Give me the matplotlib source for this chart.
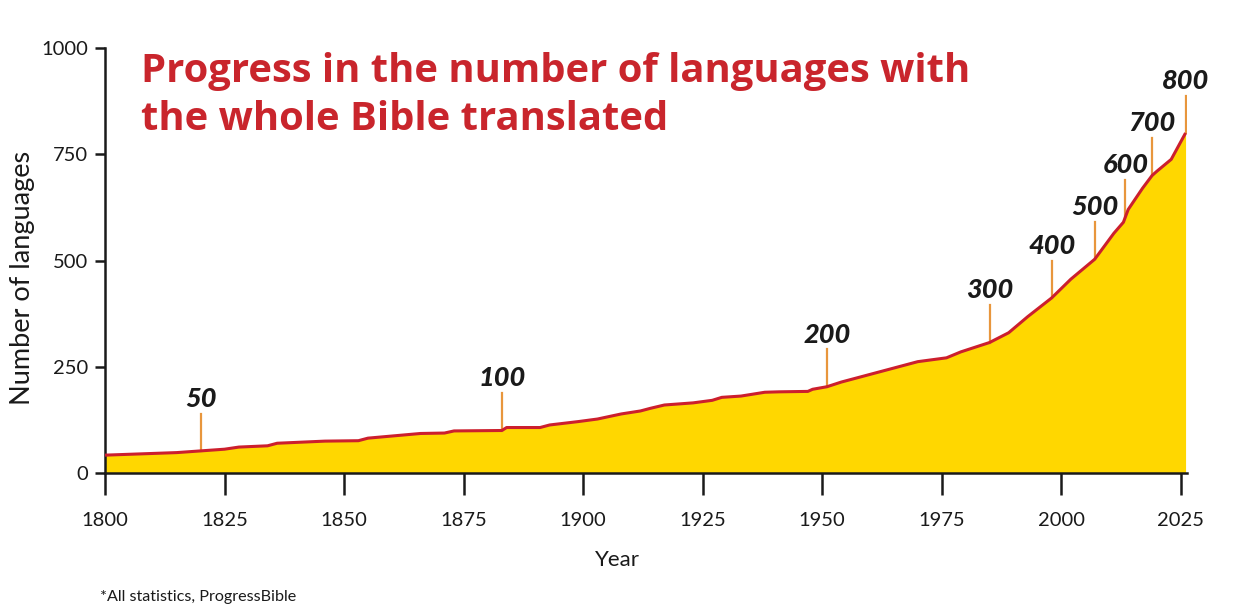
import matplotlib
matplotlib.use("Agg")
import matplotlib.pyplot as plt
import numpy as np

plt.rcParams["font.family"] = ["Lato", "DejaVu Sans"]

# data
years = [1800, 1805, 1810, 1815, 1820, 1825, 1828, 1834, 1836, 1846, 1853, 1855, 1860,
         1866, 1871, 1873, 1883, 1884, 1891, 1893, 1899, 1903, 1908, 1912, 1914, 1917,
         1923, 1927, 1929, 1933, 1938, 1941, 1947, 1948, 1951, 1954, 1957, 1960, 1964,
         1970, 1976, 1979, 1985, 1989, 1993, 1998, 2002, 2007, 2011, 2013, 2014, 2017,
         2019, 2020, 2023, 2026]
languages = [42, 44, 46, 48, 52, 56, 61, 64, 70, 75, 76, 82, 87,
             93, 94, 99, 100, 107, 107, 113, 121, 127, 139, 146, 152, 160,
             165, 171, 178, 181, 190, 191, 192, 197, 203, 214, 223, 232, 244,
             262, 271, 285, 307, 330, 368, 412, 456, 503, 564, 590, 620, 670,
             700, 710, 738, 800]

milestone_years = [1820, 1883, 1951, 1985, 1998, 2007, 2013.4, 2019, 2026]
milestone_labels = ["50", "100", "200", "300", "400", "500", "600", "700", "800"]

title_lines = ["Progress in the number of languages with", "the whole Bible translated"]

FILL = "#FFD700"
LINE = "#CC1F2D"
TITLE_RED = "#C9252C"
STEM = "#E8963C"
INK = "#1A1A1A"

fig = plt.figure(figsize=(12.4, 6.11), dpi=100)
ax = fig.add_axes([105 / 1240, 1 - 473 / 611, (1187 - 105) / 1240, (473 - 48) / 611])

ax.fill_between(years, 0, languages, color=FILL, lw=0, zorder=1)
ax.plot(years, languages, color=LINE, lw=2.2, zorder=3, solid_capstyle="butt")

for yr, lab in zip(milestone_years, milestone_labels):
    base = np.interp(yr, years, languages)
    ax.plot([yr, yr], [base, base + 88], color=STEM, lw=1.6, zorder=2)
    ax.annotate(lab, (yr, base + 88), xytext=(0, 2), textcoords="offset points",
                ha="center", va="bottom", fontsize=19.5, fontweight="black",
                fontstyle="italic", color=INK)

ax.set_xlim(1800, 2026.3)
ax.set_ylim(0, 1000)
ax.set_xticks([1800, 1825, 1850, 1875, 1900, 1925, 1950, 1975, 2000, 2025])
ax.set_yticks([0, 250, 500, 750, 1000])
ax.spines["top"].set_visible(False)
ax.spines["right"].set_visible(False)
for s in ("left", "bottom"):
    ax.spines[s].set_linewidth(1.8)
    ax.spines[s].set_color(INK)
ax.tick_params(axis="x", length=16, width=1.8, pad=12, labelsize=14.5, colors=INK)
ax.tick_params(axis="y", length=7, width=1.8, pad=5, labelsize=14.5, colors=INK)

ax.set_xlabel("Year", fontsize=16, color=INK)
ax.xaxis.set_label_coords((617 - 105) / (1187 - 105), -(550 - 473) / (473 - 48))
ax.set_ylabel("Number of languages", fontsize=19.5, color=INK)
ax.yaxis.set_label_coords((35 - 105) / (1187 - 105), (473 - 278) / (473 - 48))

for i, line in enumerate(title_lines):
    fig.text(141 / 1240, 1 - (82 + 48 * i) / 611, line, ha="left", va="baseline",
             fontsize=28.8, fontweight="bold", color=TITLE_RED, family=["Open Sans", "DejaVu Sans"])

fig.text(100 / 1240, 1 - 597 / 611, "*All statistics, ProgressBible", ha="left", va="center",
         fontsize=11.6, color=INK)

fig.savefig("out.png", dpi=100, facecolor="white")
